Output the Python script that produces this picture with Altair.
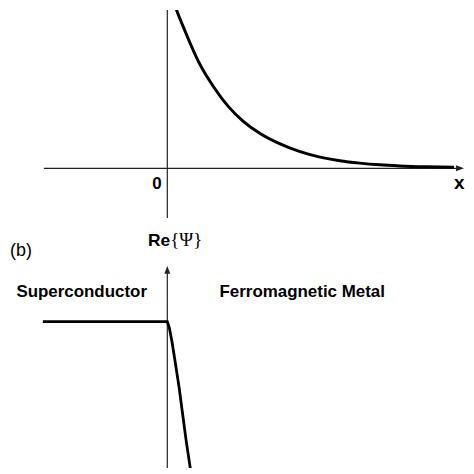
import altair as alt
import pandas as pd

# ---- data (arbitrary units, x = position, origin at the S/F interface) ----
# top panel: decaying amplitude in the ferromagnet
decay_x = [0.02, 0.132, 0.366, 0.632, 0.932, 1.232, 1.52, 1.88, 2.266, 2.666, 3.066,
           3.466, 3.866, 4.266, 4.666, 5.20, 5.76]
decay_y = [3.72, 3.334, 2.734, 2.134, 1.634, 1.234, 0.95, 0.69, 0.49, 0.334, 0.225,
           0.152, 0.104, 0.07, 0.048, 0.03, 0.02]

# bottom panel: Re{Psi}, flat in superconductor, dropping in ferromagnet
re_x = [-2.50, 0.00, 0.04, 0.10, 0.16, 0.24, 0.30, 0.38, 0.50]
re_y = [3.00, 3.00, 2.88, 2.56, 2.18, 1.66, 1.20, 0.60, -0.20]

FONT = "Liberation Sans"
AX = "#222222"

XS = alt.Scale(domain=[-3.18, 5.98], nice=False, zero=False)
YT = alt.Scale(domain=[-1.10, 3.18], nice=False, zero=False)
YB = alt.Scale(domain=[0.06, 4.94], nice=False, zero=False)

ARROW_R = "M1,0L-1,-0.75L-1,0.75Z"
ARROW_U = "M0,-1L0.75,1L-0.75,1Z"


def X(f="x"):
    return alt.X(f"{f}:Q", scale=XS, axis=None)


def Yt(f="y"):
    return alt.Y(f"{f}:Q", scale=YT, axis=None)


def Yb(f="y"):
    return alt.Y(f"{f}:Q", scale=YB, axis=None)


def label(df, yenc, **kw):
    return alt.Chart(df).mark_text(baseline="alphabetic", color="black", **kw).encode(
        x=X(), y=yenc, text="t:N")


# ---------------- top panel ----------------
t_curve = alt.Chart(pd.DataFrame({"x": decay_x, "y": decay_y})).mark_line(
    color="black", strokeWidth=3, interpolate="monotone", clip=True
).encode(x=X(), y=Yt())

t_haxis = alt.Chart(pd.DataFrame({"x": [-2.48], "x2": [5.84], "y": [0.0]})).mark_rule(
    color=AX, strokeWidth=1.2).encode(x=X(), x2="x2:Q", y=Yt())
t_arrow = alt.Chart(pd.DataFrame({"x": [5.88], "y": [0.0]})).mark_point(
    shape=ARROW_R, filled=True, size=64, color=AX, opacity=1).encode(x=X(), y=Yt())
t_vaxis = alt.Chart(pd.DataFrame({"x": [0.0], "y": [3.3], "y2": [-1.0]})).mark_rule(
    color=AX, strokeWidth=1.2, clip=True).encode(x=X(), y=Yt(), y2="y2:Q")
t_zero = label(pd.DataFrame({"x": [-0.206], "y": [-0.42], "t": ["0"]}), Yt(),
               font=FONT, fontSize=17, fontWeight="bold", align="center")
t_xlab = label(pd.DataFrame({"x": [5.97], "y": [-0.42], "t": ["x"]}), Yt(),
               font=FONT, fontSize=19, fontWeight="bold", align="right")

top = alt.layer(t_haxis, t_vaxis, t_arrow, t_curve, t_zero, t_xlab).properties(width=458, height=214)

# ---------------- bottom panel ----------------
b_curve = alt.Chart(pd.DataFrame({"x": re_x, "y": re_y})).mark_line(
    color="black", strokeWidth=2.8, clip=True
).encode(x=X(), y=Yb())

b_vaxis = alt.Chart(pd.DataFrame({"x": [0.0], "y": [4.04], "y2": [-0.3]})).mark_rule(
    color=AX, strokeWidth=1.2, clip=True).encode(x=X(), y=Yb(), y2="y2:Q")
b_arrow = alt.Chart(pd.DataFrame({"x": [0.0], "y": [4.04]})).mark_point(
    shape=ARROW_U, filled=True, size=64, color=AX, opacity=1).encode(x=X(), y=Yb())
b_re = label(pd.DataFrame({"x": [0.06], "y": [4.52], "t": ["Re"]}), Yb(),
             font=FONT, fontSize=17.5, fontWeight="bold", align="right")
b_psi = label(pd.DataFrame({"x": [0.06], "y": [4.52], "t": ["{Ψ}"]}), Yb(),
              font="Liberation Serif", fontSize=19, align="left")
b_tag = label(pd.DataFrame({"x": [-3.16], "y": [4.32], "t": ["(b)"]}), Yb(),
              font=FONT, fontSize=18, align="left")
b_sc = label(pd.DataFrame({"x": [-1.72], "y": [3.5], "t": ["Superconductor"]}), Yb(),
             font=FONT, fontSize=17, fontWeight="bold", align="center")
b_fm = label(pd.DataFrame({"x": [2.71], "y": [3.5], "t": ["Ferromagnetic Metal"]}), Yb(),
             font=FONT, fontSize=17, fontWeight="bold", align="center")

bottom = alt.layer(b_vaxis, b_arrow, b_curve, b_re, b_psi, b_tag, b_sc, b_fm).properties(width=458, height=244)

chart = alt.vconcat(top, bottom, spacing=0).properties(
    padding=0, background="white"
).configure_view(stroke="transparent")

chart.save("out.html", embed_options={"renderer": "svg", "actions": False})
